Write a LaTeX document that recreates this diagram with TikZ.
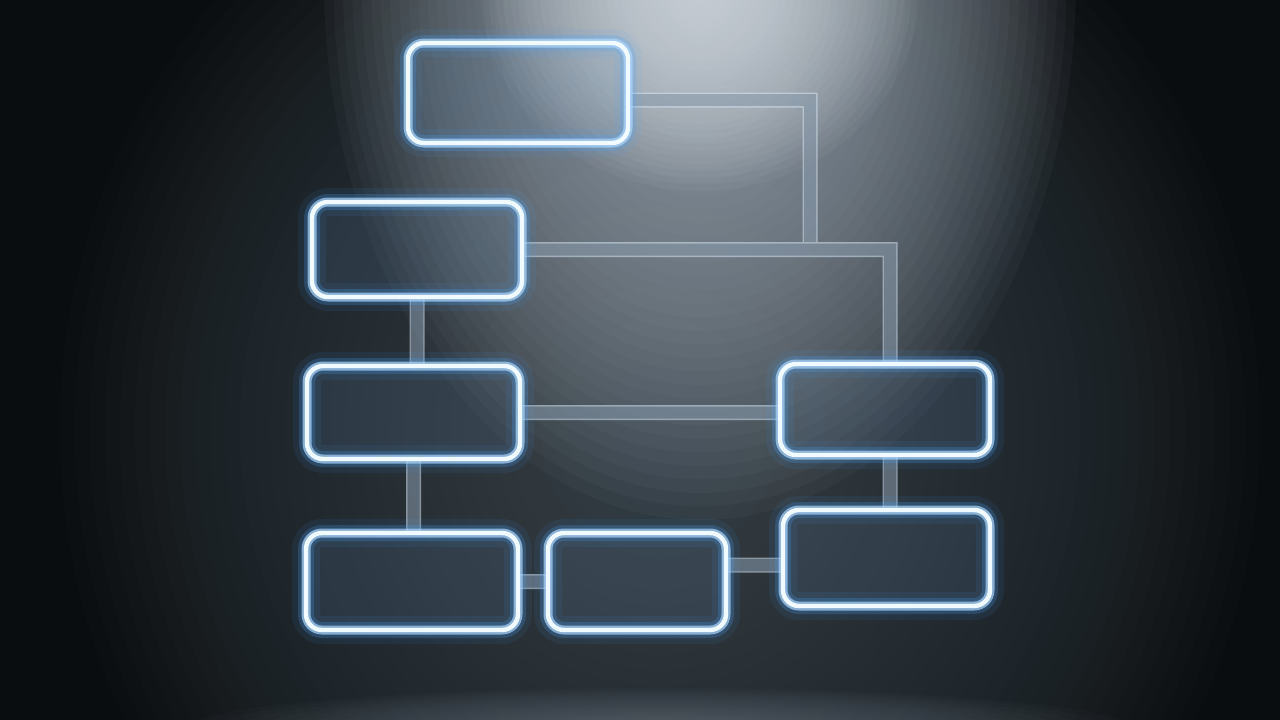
\documentclass[tikz,border=0pt]{standalone}

\definecolor{bgdark}{HTML}{0A0D10}
\definecolor{cone}{HTML}{48525C}
\definecolor{beam}{HTML}{ABB7C3}
\definecolor{hotspot}{HTML}{E8EEF4}
\definecolor{floorlit}{HTML}{8A96A2}
\definecolor{glow}{HTML}{48A6FF}
\definecolor{rim}{HTML}{F0FAFF}
\definecolor{glass}{HTML}{6F9CC8}
\definecolor{pipeedge}{HTML}{D6E8F8}
\definecolor{pipeglass}{HTML}{8A9CAE}

\pgfdeclarelayer{backdrop}
\pgfdeclarelayer{tubes}
\pgfsetlayers{backdrop,tubes,main}

\tikzset{
	flowbox/.style={rectangle, rounded corners=16pt, inner sep=0pt,
		preaction={fill=glass, fill opacity=0.14},
		preaction={draw=glow, line width=28pt, draw opacity=0.08},
		preaction={draw=glow, line width=16pt, draw opacity=0.22},
		preaction={draw=glow!45!white, line width=9pt, draw opacity=0.7},
		draw=rim, line width=4.4pt},
	pipe/.style={draw=pipeedge, line width=1.5pt, double=pipeglass, double distance=12pt, line join=miter}
}

\begin{document}
\begin{tikzpicture}[x=1pt,y=1pt,yscale=-1,xscale=1]
		\useasboundingbox (0,0) rectangle (1280,720);
		\clip (0,0) rectangle (1280,720);

		% Dark backdrop with the spotlight cone from above (stacked faint ellipses)
		\begin{pgfonlayer}{backdrop}
			\fill[bgdark] (0,0) rectangle (1280,720);
			\foreach \k in {1,...,40}
				\fill[cone, opacity=0.038] (660,430) ellipse ({\k*15} and {\k*16});
			\foreach \k in {1,...,40}
				\fill[beam, opacity=0.045] (700,-20) ellipse ({\k*9.4} and {\k*13.5});
			\foreach \k in {1,...,30}
				\fill[hotspot, opacity=0.042] (700,-10) ellipse ({\k*7.3} and {\k*6.7});
			% Faint lit floor at the bottom
			\foreach \k in {1,...,20}
				\fill[floorlit, opacity=0.03] (660,728) ellipse ({\k*23.5} and {\k*2});
		\end{pgfonlayer}

		% The glass boxes
		\node[flowbox, minimum width=220pt, minimum height=100pt] (top) at (518,93) {};
		\node[flowbox, minimum width=210pt, minimum height=95pt] (upper) at (417,249.5) {};
		\node[flowbox, minimum width=213pt, minimum height=93pt] (middle) at (413.5,412.5) {};
		\node[flowbox, minimum width=210pt, minimum height=91pt] (side) at (885,409.5) {};
		\node[flowbox, minimum width=212pt, minimum height=97pt] (low) at (412,581.5) {};
		\node[flowbox, minimum width=178pt, minimum height=97pt] (lowmid) at (637,581.5) {};
		\node[flowbox, minimum width=207pt, minimum height=96pt] (lowside) at (886.5,558) {};

		% Junction where the top branch meets the upper one
		\coordinate (join) at (810,244);

		% The glass tubes between the boxes
		\begin{pgfonlayer}{tubes}
			\begin{scope}[transparency group, opacity=0.55]
				\draw[pipe] ([yshift=7pt]top.east) -| (join);
				\draw[pipe] (upper.east) -| ([xshift=5pt]side.north);
				\draw[pipe] (upper.south) -- (upper.south |- middle.north);
				\draw[pipe] (middle.east) -- (middle.east -| side.west);
				\draw[pipe] (middle.south) -- (middle.south |- low.north);
				\draw[pipe] (low.east) -- (low.east -| lowmid.west);
				\draw[pipe] ([yshift=7pt]lowside.west) -- ([yshift=7pt]lowside.west -| lowmid.east);
				\draw[pipe] ([xshift=5pt]side.south) -- ([xshift=5pt]side.south |- lowside.north);
			\end{scope}
		\end{pgfonlayer}
\end{tikzpicture}
\end{document}
